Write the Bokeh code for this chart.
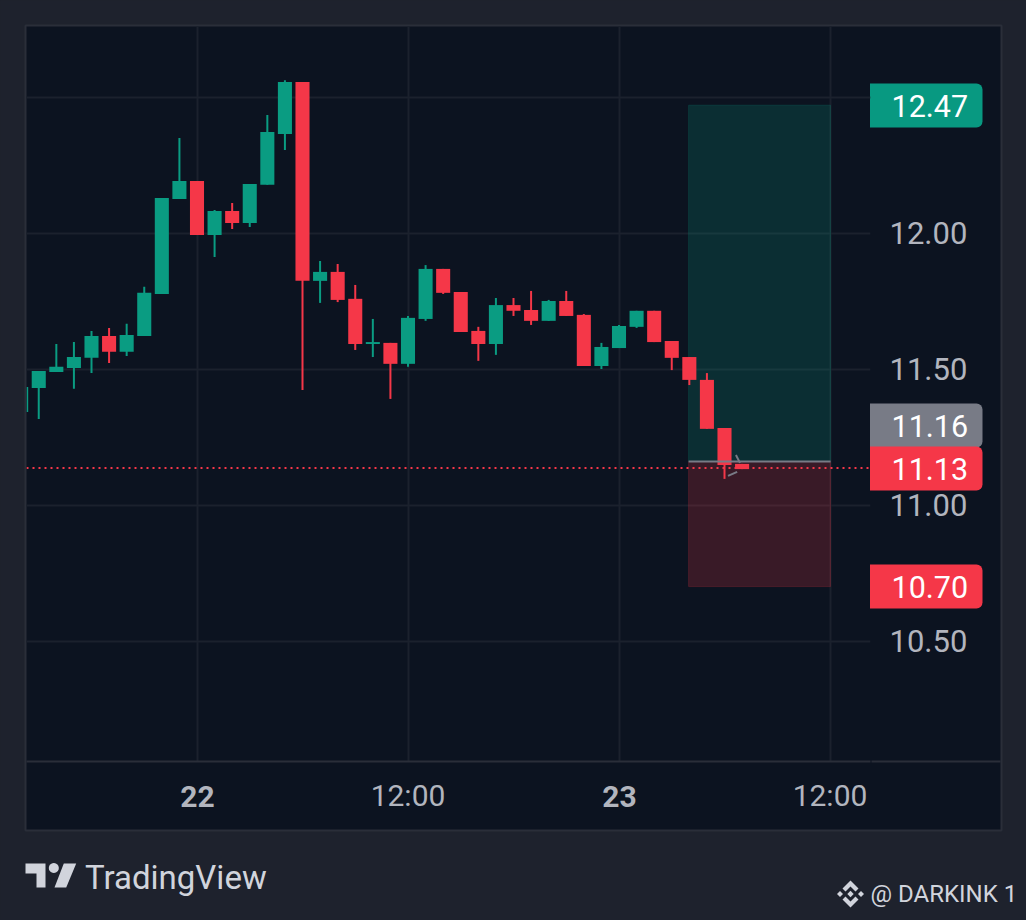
from bokeh.plotting import figure
from bokeh.embed import file_html
from bokeh.resources import INLINE
from bokeh.core.properties import value
from bokeh.models import (Range1d, FixedTicker, NumeralTickFormatter, Span, GlobalInlineStyleSheet,
                          LinearAxis, Grid)
import numpy as np

# hours relative to the 22nd 00:00
hours = list(range(-10, 32))
opens = [11.342,11.430,11.489,11.504,11.541,11.621,11.563,11.621,11.776,12.125,12.191,11.993,12.081,12.037,12.177,12.364,12.555,11.824,11.857,11.758,11.592,11.596,11.519,11.684,11.868,11.783,11.640,11.592,11.735,11.717,11.677,11.750,11.699,11.511,11.577,11.655,11.714,11.603,11.544,11.460,11.283,11.151]
highs = [11.434,11.493,11.592,11.599,11.640,11.651,11.666,11.802,12.129,12.349,12.191,12.085,12.110,12.180,12.434,12.562,12.555,11.897,11.886,11.809,11.684,11.596,11.695,11.882,11.868,11.783,11.655,11.761,11.761,11.787,11.754,11.787,11.702,11.596,11.662,11.714,11.714,11.603,11.544,11.485,11.283,11.151]
lows = [11.342,11.316,11.489,11.427,11.485,11.522,11.548,11.621,11.776,12.125,11.993,11.912,12.015,12.022,12.177,12.305,11.423,11.743,11.746,11.570,11.544,11.390,11.508,11.677,11.776,11.636,11.530,11.552,11.695,11.662,11.677,11.695,11.511,11.500,11.577,11.651,11.599,11.496,11.441,11.280,11.096,11.132]
closes = [11.434,11.493,11.508,11.544,11.621,11.563,11.625,11.780,12.129,12.191,11.993,12.081,12.037,12.180,12.371,12.555,11.824,11.857,11.754,11.592,11.599,11.519,11.688,11.868,11.780,11.636,11.592,11.735,11.714,11.677,11.750,11.695,11.511,11.581,11.658,11.714,11.599,11.541,11.460,11.280,11.147,11.132]

target_price, entry_price, stop_price, last_price = 12.47, 11.16, 10.70, 11.136
zone_start, zone_end = 27.96, 36.03
arrow_x0 = [30.65, 30.2]
arrow_y0 = [11.184, 11.107]
arrow_x1 = [30.88, 30.72]
arrow_y1 = [11.155, 11.122]

price_ticks = [10.5, 11.0, 11.5, 12.0]
grid_prices = [10.5, 11.0, 11.5, 12.0, 12.5]
time_ticks = [12, 36]
time_labels = {12: "12:00", 36: "12:00"}
day_labels = ["22", "23"]
grid_hours = [0, 12, 24, 36]
tag_labels = ["12.47", "11.16", "11.13", "10.70"]

GREEN, RED = "#0a9c82", "#f53748"
GRAY = "#787b86"
BG, OUTER, GRID, BORDER = "#0c1320", "#1e222d", "#1b212d", "#2a2e39"
AXTXT = "#b2b5be"
FOOT = "#d1d4dc"

# layout helpers: page pixel -> scale value
def X(px): return (px - 196.5) / (211 / 12)
def Y(px): return 12 - (px - 232.5) / 272

# ---------- backdrop: a page-sized figure in page pixels ----------
b = figure(width=1026, height=920, output_backend="svg", toolbar_location=None,
           x_range=Range1d(0, 1026), y_range=Range1d(920, 0), min_border=0,
           background_fill_color=OUTER, border_fill_color=OUTER, outline_line_color=None,
           x_axis_location=None, y_axis_location=None)
b.grid.visible = False
b.stylesheets = [GlobalInlineStyleSheet(css="html,body{margin:0;padding:0;background:#1e222d;overflow:hidden}")]

b.quad(left=[25], right=[1001], top=[25], bottom=[830], fill_color=BG, line_color=BORDER, line_width=2)
b.quad(left=[871], right=[1000], top=[760], bottom=[762], fill_color=BORDER, line_color=None)

def txt(x, y, s, size, color, align="left", style="normal"):
    b.text(x=[x], y=[y], text=[s], text_font=value("Roboto"), text_font_size=size, text_font_style=style,
           text_color=color, text_baseline="middle", text_align=align)

tag_boxes = [(83, 127, "#089981"), (403, 447, GRAY), (446, 490, RED), (564, 608, RED)]
for s, (t, bt, col) in zip(tag_labels, tag_boxes):
    b.quad(left=[869.5], right=[982], top=[t], bottom=[bt], fill_color=col, line_color=None, border_radius=(0, 6, 6, 0))
    txt(891, (t + bt) / 2, s, "30.5px", "white")

for d, s in zip([197, 619], day_labels):
    txt(d, 796, s, "30px", AXTXT, align="center", style="bold")

def poly(pts):
    b.patch([a for a, _ in pts], [c for _, c in pts], fill_color=FOOT, line_color=None)
poly([(25, 863), (45, 863), (45, 887), (36, 887), (36, 873), (25, 873)])
poly([(53.3 + 5 * np.cos(t), 867.5 + 5 * np.sin(t)) for t in np.linspace(0, 2 * np.pi, 24, endpoint=False)])
poly([(63.3, 863), (75.7, 863), (65.7, 887), (54, 887)])
txt(84.5, 877, "TradingView", "33px", FOOT)

cx, cy = 850, 893.5
for sgn in (1, -1):
    poly([(cx, cy - sgn * 13.5), (cx + 8, cy - sgn * 5.5), (cx + 5, cy - sgn * 2.5), (cx, cy - sgn * 7.5),
          (cx - 5, cy - sgn * 2.5), (cx - 8, cy - sgn * 5.5)])
for dx, r in [(0, 3.2), (-10.5, 3), (10.5, 3)]:
    poly([(cx + dx, cy - r), (cx + dx + r, cy), (cx + dx, cy + r), (cx + dx - r, cy)])
txt(870, 893, "@ DARKINK 1", "24px", FOOT)

# ---------- the chart, transparent, laid over the backdrop ----------
p = figure(width=1026, height=920, output_backend="svg", toolbar_location=None,
           x_range=Range1d(X(26), X(870)), y_range=Range1d(Y(761), Y(26)),
           min_border_left=26, min_border_right=156, min_border_top=26, min_border_bottom=159,
           background_fill_color=None, border_fill_color=None, outline_line_color=None,
           x_axis_location=None, y_axis_location=None,
           styles={"position": "absolute", "left": "0px", "top": "0px"})
p.grid.visible = False

ra = LinearAxis(ticker=FixedTicker(ticks=price_ticks), formatter=NumeralTickFormatter(format="0.00"))
ra.major_label_text_font = "Roboto"; ra.major_label_text_font_size = "31px"; ra.major_label_text_color = AXTXT
ra.major_tick_line_color = None; ra.minor_tick_line_color = None; ra.axis_line_color = None
ra.major_label_standoff = 13
p.add_layout(ra, "right")

ba = LinearAxis(ticker=FixedTicker(ticks=time_ticks), major_label_overrides=time_labels)
ba.major_label_text_font = "Roboto"; ba.major_label_text_font_size = "30px"; ba.major_label_text_color = AXTXT
ba.major_tick_line_color = None; ba.minor_tick_line_color = None
ba.axis_line_color = BORDER; ba.axis_line_width = 2
ba.major_label_standoff = 10
p.add_layout(ba, "below")

p.add_layout(Grid(dimension=0, ticker=FixedTicker(ticks=grid_hours), grid_line_color=GRID, grid_line_width=2))
p.add_layout(Grid(dimension=1, ticker=FixedTicker(ticks=grid_prices), grid_line_color=GRID, grid_line_width=2))

p.quad(left=[zone_start], right=[zone_end], top=[target_price], bottom=[entry_price],
       fill_color="#089981", fill_alpha=0.2, line_color="#089981", line_alpha=0.2)
p.quad(left=[zone_start], right=[zone_end], top=[entry_price], bottom=[stop_price],
       fill_color="#f23645", fill_alpha=0.2, line_color="#f23645", line_alpha=0.2)

colors = [GREEN if c >= o else RED for o, c in zip(opens, closes)]
p.segment(hours, lows, hours, highs, line_color=colors, line_width=2)
p.vbar(x=hours, width=0.8, top=[max(o, c) for o, c in zip(opens, closes)],
       bottom=[min(o, c) for o, c in zip(opens, closes)], fill_color=colors, line_color=None)

p.segment([zone_start], [entry_price], [zone_end], [entry_price], line_color=GRAY, line_width=2)
p.segment(arrow_x0, arrow_y0, arrow_x1, arrow_y1, line_color=GRAY, line_width=2)
p.add_layout(Span(location=last_price, dimension="width", line_color=RED, line_width=2, line_dash="2 4"))

open("out.html", "w").write(file_html([b, p], INLINE))
